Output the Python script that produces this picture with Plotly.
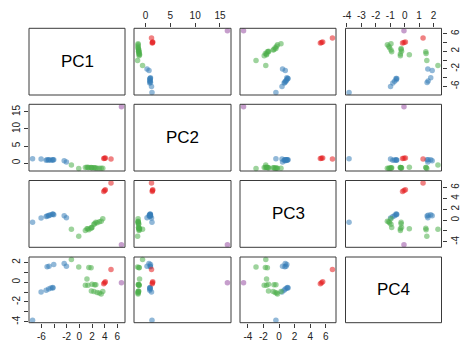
import plotly.graph_objects as go

# ---- data ----
var_names = ["PC1", "PC2", "PC3", "PC4"]
groups = ["blue"] * 12 + ["green"] * 16 + ["red"] * 4 + ["purple"]
PC1 = [-7.4, -6.05, -5.25, -4.85, -4.5, -4.2, -4.2, -5.1, -4.8, -4.05, -2.4, -2.05,
       -1.26, -0.1, 1.5, 1.85, 1.2, 0.95, 1.35, 2.0, 2.4, 1.9, 2.3, 2.8, 3.15, 3.45, 3.7, 2.6,
       3.85, 4.1, 4.0, 5.0,
       6.65]
PC2 = [1.3, 1.2, 0.85, 0.9, 0.85, 0.9, 0.95, 1.0, 0.95, 1.0, 0.7, 0.3,
       -0.6, -1.6, -1.3, -1.3, -1.2, -1.3, -1.3, -1.4, -1.4, -1.4, -1.4, -1.5, -1.5, -1.5, -1.5, -1.45,
       1.35, 1.45, 1.4, 1.2,
       16.5]
PC3 = [-0.4, 0.38, 0.65, 0.8, 1.0, 1.1, 1.15, 0.75, 0.9, 1.0, 0.8, 0.45,
       -1.7, -2.95, -1.75, -1.5, -1.6, -1.9, -1.6, -1.35, -0.65, -1.35, -0.75, -0.5, -0.3, -0.2, 0.25, -0.4,
       5.3, 5.6, 5.45, 6.85,
       -4.55]
PC4 = [-3.85, -0.98, -0.82, -0.7, -0.58, -0.55, -0.6, 1.55, 1.62, 1.8, 1.9, 1.6,
       2.3, 1.53, 1.48, 1.46, 0.32, -0.3, -0.3, -0.22, -0.25, -0.9, -0.95, -1.05, -1.1, -1.2, -0.95, -0.25,
       -0.15, 0.05, -0.05, 1.27,
       -0.05]
tick_vals = {
    "PC1": [-6, -4, -2, 0, 2, 4, 6],
    "PC2": [0, 5, 10, 15],
    "PC3": [-4, -2, 0, 2, 4, 6],
    "PC4": [-4, -3, -2, -1, 0, 1, 2],
}
tick_text_x = {
    "PC1": ["-6", "", "-2", "0", "2", "4", "6"],
    "PC2": ["0", "5", "10", "15"],
    "PC3": ["-4", "-2", "0", "2", "4", "6"],
    "PC4": ["-4", "-3", "-2", "-1", "0", "1", "2"],
}
tick_text_y = {
    "PC1": ["-6", "", "-2", "", "2", "", "6"],
    "PC2": ["0", "5", "10", "15"],
    "PC3": ["-4", "", "0", "2", "4", "6"],
    "PC4": ["-4", "", "-2", "", "0", "", "2"],
}

data = {"PC1": PC1, "PC2": PC2, "PC3": PC3, "PC4": PC4}
colors = {
    "blue": "rgba(55,126,184,0.55)",
    "green": "rgba(77,175,74,0.55)",
    "red": "rgba(228,26,28,0.55)",
    "purple": "rgba(152,78,163,0.55)",
}

OFF = 8  # browser body margin
W, H = 474 - OFF, 357 - OFF
col_px = [(29, 125), (134, 231), (240, 336), (345.5, 441.5)]
row_px = [(28.3, 95), (104.3, 171), (180.5, 247.3), (257, 322.7)]


def rng(v):
    lo, hi = min(v), max(v)
    p = (hi - lo) * 0.04
    return [lo - p, hi + p]


fig = go.Figure()
layout = dict(width=W, height=H, margin=dict(l=0, r=0, t=0, b=0, pad=0),
              paper_bgcolor="white", plot_bgcolor="white", showlegend=False,
              font=dict(family="Liberation Sans, Arial, sans-serif", size=10, color="#222"))
shapes = []
annotations = []
font_t = dict(family="Liberation Sans, Arial, sans-serif", size=10, color="#222")

for i in range(4):
    for j in range(4):
        x0, x1 = col_px[j]
        y0, y1 = row_px[i]
        xd = [(x0 - OFF) / W, (x1 - OFF) / W]
        yd = [1 - (y1 - OFF) / H, 1 - (y0 - OFF) / H]
        shapes.append(dict(type="rect", xref="paper", yref="paper",
                           x0=xd[0], x1=xd[1], y0=yd[0], y1=yd[1],
                           line=dict(color="#3a3a3a", width=1)))
        if i == j:
            annotations.append(dict(xref="paper", yref="paper",
                                    x=(xd[0] + xd[1]) / 2, y=(yd[0] + yd[1]) / 2,
                                    xanchor="center", yanchor="middle",
                                    text=var_names[i], showarrow=False,
                                    font=dict(family="Liberation Sans, Arial, sans-serif",
                                              size=17, color="black")))
            continue
        k = i * 4 + j + 1
        vx, vy = var_names[j], var_names[i]
        xa = dict(domain=xd, range=rng(data[vx]), showgrid=False, zeroline=False,
                  showline=False, anchor=f"y{k}", showticklabels=False, ticks="",
                  automargin=False)
        ya = dict(domain=yd, range=rng(data[vy]), showgrid=False, zeroline=False,
                  showline=False, anchor=f"x{k}", showticklabels=False, ticks="",
                  automargin=False)
        tickstyle = dict(ticks="outside", ticklen=4, tickwidth=1, tickcolor="#3a3a3a",
                         showticklabels=True, tickfont=font_t, tickmode="array")
        if i == 0 and j in (1, 3):
            xa.update(tickstyle, side="top", tickvals=tick_vals[vx], ticktext=tick_text_x[vx])
        if i == 3 and j in (0, 2):
            xa.update(tickstyle, side="bottom", tickvals=tick_vals[vx], ticktext=tick_text_x[vx])
        if j == 0 and i in (1, 3):
            ya.update(tickstyle, side="left", tickvals=tick_vals[vy], ticktext=tick_text_y[vy],
                      tickangle=-90)
        if j == 3 and i in (0, 2):
            ya.update(tickstyle, side="right", tickvals=tick_vals[vy], ticktext=tick_text_y[vy],
                      tickangle=-90)
        layout[f"xaxis{k}"] = xa
        layout[f"yaxis{k}"] = ya
        fig.add_trace(go.Scatter(x=data[vx], y=data[vy], mode="markers",
                                 xaxis=f"x{k}", yaxis=f"y{k}", hoverinfo="skip",
                                 cliponaxis=False,
                                 marker=dict(size=5.5, color=[colors[g] for g in groups],
                                             line=dict(width=0))))

layout["shapes"] = shapes
layout["annotations"] = annotations
fig.update_layout(**layout)
fig.write_html("out.html")
